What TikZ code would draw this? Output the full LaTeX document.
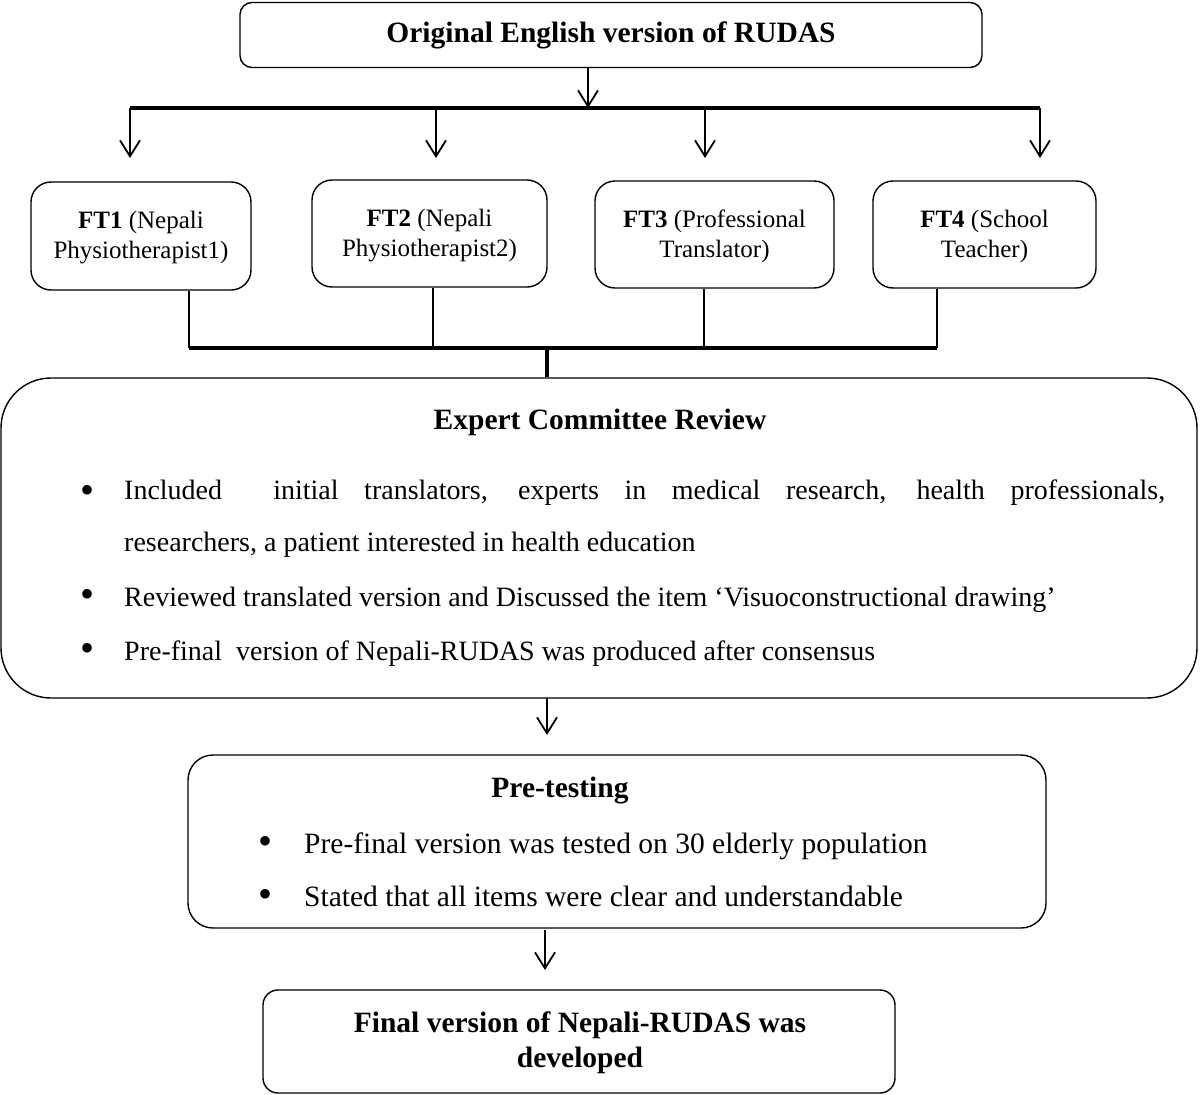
\documentclass[tikz,border=0pt]{standalone}
\usepackage{fontspec}
\setmainfont{Liberation Serif}
\usetikzlibrary{arrows.meta}
\begin{document}
\begin{tikzpicture}[x=1pt,y=1pt,
  box/.style={draw, line width=1.4pt, inner sep=0pt, align=center},
  arr/.style={line width=1.8pt, -{Straight Barb[length=16pt,width=20pt,line width=1.8pt]}},
  thickline/.style={line width=3.2pt},
  thinline/.style={line width=1.4pt},
  body/.style={inner sep=0pt, font=\fontsize{28}{52}\selectfont},
  pbody/.style={inner sep=0pt, font=\fontsize{29.5}{52}\selectfont},
  bul/.style={inner sep=0pt, font=\fontsize{40}{40}\selectfont},
  ttl/.style={inner sep=0pt, font=\fontsize{29.5}{35}\selectfont\bfseries},
  ftxt/.style={font=\fontsize{25}{30}\selectfont}]
\useasboundingbox (0,0) rectangle (1200,-1095);

% top box
\node[box, rounded corners=12pt, minimum width=742pt, minimum height=65pt,
      font=\fontsize{29.5}{35}\selectfont\bfseries] (top) at (611,-35) {Original English version of RUDAS};
\coordinate (b0) at (588,-108);
\draw[arr] (top.south -| b0) -- (b0);

% branching line
\coordinate (b1) at (130,-108);
\coordinate (b2) at (436,-108);
\coordinate (b3) at (705,-108);
\coordinate (b4) at (1040,-108);
\draw[thickline] (b1) -- (b4);
\coordinate (a1) at (130,-158);
\coordinate (a2) at (436,-158);
\coordinate (a3) at (705,-158);
\coordinate (a4) at (1040,-158);
\foreach \i in {1,2,3,4} \draw[arr] (b\i) -- (a\i);

% FT boxes
\node[box, rounded corners=20pt, minimum width=220pt, minimum height=108pt] (ft1) at (141,-236) {};
\node[box, rounded corners=20pt, minimum width=235pt, minimum height=107pt] (ft2) at (429.5,-233.5) {};
\node[box, rounded corners=20pt, minimum width=239pt, minimum height=107pt] (ft3) at (714.5,-234.5) {};
\node[box, rounded corners=20pt, minimum width=223pt, minimum height=107pt] (ft4) at (984.5,-234.5) {};
\node[ftxt, align=center] (ft1t) at (141,-238) {\textbf{FT1} (Nepali\\Physiotherapist1)};
\node[ftxt, align=center] (ft2t) at (429.5,-236) {\textbf{FT2} (Nepali\\Physiotherapist2)};
\node[ftxt, align=center] (ft3t) at (714.5,-236) {\textbf{FT3} (Professional\\Translator)};
\node[ftxt, align=center] (ft4t) at (984.5,-236) {\textbf{FT4} (School\\Teacher)};

% merge lines
\coordinate (m1) at (189,-348);
\coordinate (m2) at (433,-348);
\coordinate (m3) at (704,-348);
\coordinate (m4) at (937,-348);
\coordinate (mc) at (547,-348);
\foreach \i in {1,2,3,4} \draw[thinline] (ft\i.south -| m\i) -- (m\i);
\draw[thickline] (m1) -- (m4);

% expert box
\node[box, rounded corners=50pt, minimum width=1196pt, minimum height=320pt] (exp) at (599,-538) {};
\draw[thickline] (mc) -- (exp.north -| mc);
\node[ttl] (expt) at (600,-422) {Expert Committee Review};
\node[bul, anchor=base] (eb1) at (88,-503) {\textbullet};
\node[bul, anchor=base] (eb2) at (88,-607) {\textbullet};
\node[bul, anchor=base] (eb3) at (88,-661) {\textbullet};
\node[body, anchor=north west, text width=1041pt, align=justify] (et1) at (124,-480) {\hyphenpenalty=10000\exhyphenpenalty=10000 Included\ \ initial translators, experts in medical research, health professionals,\linebreak researchers, a patient interested in health education};
\node[body, anchor=base west] (et2) at (124,-606) {Reviewed translated version and Discussed the item ‘Visuoconstructional drawing’};
\node[body, anchor=base west] (et3) at (124,-660) {Pre-final\ \ version of Nepali-RUDAS was produced after consensus};

% arrow to pre-testing
\coordinate (c1) at (547,-698);
\coordinate (c2) at (547,-735);
\draw[arr] (c1) -- (c2);

% pre-testing box
\node[box, rounded corners=25pt, minimum width=858pt, minimum height=173pt] (pre) at (617,-841.5) {};
\node[ttl] (pret) at (560,-791) {Pre-testing};
\node[bul, anchor=base] (pb1) at (265,-854) {\textbullet};
\node[bul, anchor=base] (pb2) at (265,-907) {\textbullet};
\node[pbody, anchor=base west] (pt1) at (304,-853) {Pre-final version was tested on 30 elderly population};
\node[pbody, anchor=base west] (pt2) at (304,-906) {Stated that all items were clear and understandable};

% arrow to final
\coordinate (d1) at (545,-930);
\coordinate (d2) at (545,-970);
\draw[arr] (d1) -- (d2);

% final box
\node[box, rounded corners=15pt, minimum width=632pt, minimum height=103pt] (fin) at (579,-1041.5) {};
\node[font=\fontsize{29.5}{35}\selectfont\bfseries, align=center] (fint) at (580,-1043) {Final version of Nepali-RUDAS was\\developed};
\end{tikzpicture}
\end{document}
